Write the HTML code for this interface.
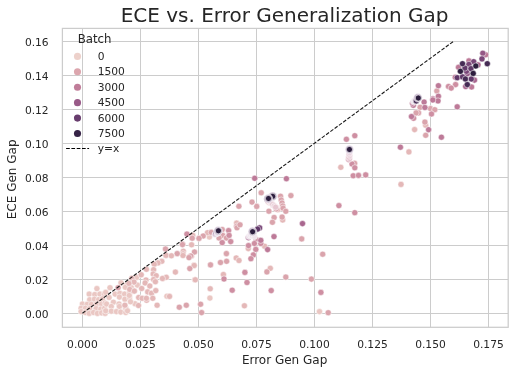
<!DOCTYPE html>
<html><head><meta charset="utf-8"><title>ECE vs. Error Generalization Gap</title>
<style>html,body{margin:0;padding:0;background:#fff;}svg{display:block;}</style></head>
<body>
<svg width="515" height="374" viewBox="0 0 515 374" font-family="'DejaVu Sans', 'Liberation Sans', sans-serif" fill="#262626">
<line x1="82.5" y1="28.4" x2="82.5" y2="327.3" stroke="#cccccc" stroke-width="1"/>
<line x1="140.5" y1="28.4" x2="140.5" y2="327.3" stroke="#cccccc" stroke-width="1"/>
<line x1="198.5" y1="28.4" x2="198.5" y2="327.3" stroke="#cccccc" stroke-width="1"/>
<line x1="256.5" y1="28.4" x2="256.5" y2="327.3" stroke="#cccccc" stroke-width="1"/>
<line x1="314.5" y1="28.4" x2="314.5" y2="327.3" stroke="#cccccc" stroke-width="1"/>
<line x1="372.5" y1="28.4" x2="372.5" y2="327.3" stroke="#cccccc" stroke-width="1"/>
<line x1="430.5" y1="28.4" x2="430.5" y2="327.3" stroke="#cccccc" stroke-width="1"/>
<line x1="488.5" y1="28.4" x2="488.5" y2="327.3" stroke="#cccccc" stroke-width="1"/>
<line x1="62.4" y1="313.5" x2="508.2" y2="313.5" stroke="#cccccc" stroke-width="1"/>
<line x1="62.4" y1="279.5" x2="508.2" y2="279.5" stroke="#cccccc" stroke-width="1"/>
<line x1="62.4" y1="245.5" x2="508.2" y2="245.5" stroke="#cccccc" stroke-width="1"/>
<line x1="62.4" y1="211.5" x2="508.2" y2="211.5" stroke="#cccccc" stroke-width="1"/>
<line x1="62.4" y1="177.5" x2="508.2" y2="177.5" stroke="#cccccc" stroke-width="1"/>
<line x1="62.4" y1="143.5" x2="508.2" y2="143.5" stroke="#cccccc" stroke-width="1"/>
<line x1="62.4" y1="109.5" x2="508.2" y2="109.5" stroke="#cccccc" stroke-width="1"/>
<line x1="62.4" y1="75.5" x2="508.2" y2="75.5" stroke="#cccccc" stroke-width="1"/>
<line x1="62.4" y1="41.5" x2="508.2" y2="41.5" stroke="#cccccc" stroke-width="1"/>
<circle cx="209.4" cy="237.0" r="3.05" fill="#eac7c3" stroke="#fff" stroke-width="0.5"/>
<circle cx="319.5" cy="311.6" r="3.05" fill="#eac7c3" stroke="#fff" stroke-width="0.5"/>
<circle cx="209.9" cy="298.1" r="3.05" fill="#eac7c3" stroke="#fff" stroke-width="0.5"/>
<circle cx="163.1" cy="278.6" r="3.05" fill="#eac7c3" stroke="#fff" stroke-width="0.5"/>
<circle cx="166.9" cy="296.2" r="3.05" fill="#eac7c3" stroke="#fff" stroke-width="0.5"/>
<circle cx="135.0" cy="303.7" r="3.05" fill="#eac7c3" stroke="#fff" stroke-width="0.5"/>
<circle cx="194.8" cy="279.8" r="3.05" fill="#eac7c3" stroke="#fff" stroke-width="0.5"/>
<circle cx="121.0" cy="282.8" r="3.05" fill="#eac7c3" stroke="#fff" stroke-width="0.5"/>
<circle cx="125.4" cy="285.5" r="3.05" fill="#eac7c3" stroke="#fff" stroke-width="0.5"/>
<circle cx="96.9" cy="288.6" r="3.05" fill="#eac7c3" stroke="#fff" stroke-width="0.5"/>
<circle cx="89.2" cy="294.1" r="3.05" fill="#eac7c3" stroke="#fff" stroke-width="0.5"/>
<circle cx="94.8" cy="294.5" r="3.05" fill="#eac7c3" stroke="#fff" stroke-width="0.5"/>
<circle cx="99.9" cy="294.1" r="3.05" fill="#eac7c3" stroke="#fff" stroke-width="0.5"/>
<circle cx="104.2" cy="294.1" r="3.05" fill="#eac7c3" stroke="#fff" stroke-width="0.5"/>
<circle cx="89.7" cy="299.7" r="3.05" fill="#eac7c3" stroke="#fff" stroke-width="0.5"/>
<circle cx="94.4" cy="299.2" r="3.05" fill="#eac7c3" stroke="#fff" stroke-width="0.5"/>
<circle cx="98.6" cy="299.7" r="3.05" fill="#eac7c3" stroke="#fff" stroke-width="0.5"/>
<circle cx="102.5" cy="298.8" r="3.05" fill="#eac7c3" stroke="#fff" stroke-width="0.5"/>
<circle cx="82.4" cy="304.0" r="3.05" fill="#eac7c3" stroke="#fff" stroke-width="0.5"/>
<circle cx="87.1" cy="304.4" r="3.05" fill="#eac7c3" stroke="#fff" stroke-width="0.5"/>
<circle cx="91.4" cy="304.4" r="3.05" fill="#eac7c3" stroke="#fff" stroke-width="0.5"/>
<circle cx="96.5" cy="304.0" r="3.05" fill="#eac7c3" stroke="#fff" stroke-width="0.5"/>
<circle cx="101.6" cy="304.0" r="3.05" fill="#eac7c3" stroke="#fff" stroke-width="0.5"/>
<circle cx="105.1" cy="303.1" r="3.05" fill="#eac7c3" stroke="#fff" stroke-width="0.5"/>
<circle cx="81.1" cy="308.2" r="3.05" fill="#eac7c3" stroke="#fff" stroke-width="0.5"/>
<circle cx="85.4" cy="308.2" r="3.05" fill="#eac7c3" stroke="#fff" stroke-width="0.5"/>
<circle cx="89.7" cy="308.6" r="3.05" fill="#eac7c3" stroke="#fff" stroke-width="0.5"/>
<circle cx="96.1" cy="308.6" r="3.05" fill="#eac7c3" stroke="#fff" stroke-width="0.5"/>
<circle cx="100.8" cy="309.1" r="3.05" fill="#eac7c3" stroke="#fff" stroke-width="0.5"/>
<circle cx="104.6" cy="308.2" r="3.05" fill="#eac7c3" stroke="#fff" stroke-width="0.5"/>
<circle cx="81.1" cy="311.6" r="3.05" fill="#eac7c3" stroke="#fff" stroke-width="0.5"/>
<circle cx="85.4" cy="312.5" r="3.05" fill="#eac7c3" stroke="#fff" stroke-width="0.5"/>
<circle cx="89.2" cy="313.4" r="3.05" fill="#eac7c3" stroke="#fff" stroke-width="0.5"/>
<circle cx="93.5" cy="312.5" r="3.05" fill="#eac7c3" stroke="#fff" stroke-width="0.5"/>
<circle cx="97.4" cy="313.4" r="3.05" fill="#eac7c3" stroke="#fff" stroke-width="0.5"/>
<circle cx="101.6" cy="312.9" r="3.05" fill="#eac7c3" stroke="#fff" stroke-width="0.5"/>
<circle cx="105.1" cy="313.4" r="3.05" fill="#eac7c3" stroke="#fff" stroke-width="0.5"/>
<circle cx="110.0" cy="287.7" r="3.05" fill="#eac7c3" stroke="#fff" stroke-width="0.5"/>
<circle cx="125.4" cy="287.3" r="3.05" fill="#eac7c3" stroke="#fff" stroke-width="0.5"/>
<circle cx="131.4" cy="287.7" r="3.05" fill="#eac7c3" stroke="#fff" stroke-width="0.5"/>
<circle cx="105.7" cy="292.4" r="3.05" fill="#eac7c3" stroke="#fff" stroke-width="0.5"/>
<circle cx="115.1" cy="294.1" r="3.05" fill="#eac7c3" stroke="#fff" stroke-width="0.5"/>
<circle cx="119.8" cy="293.3" r="3.05" fill="#eac7c3" stroke="#fff" stroke-width="0.5"/>
<circle cx="124.5" cy="294.1" r="3.05" fill="#eac7c3" stroke="#fff" stroke-width="0.5"/>
<circle cx="129.6" cy="292.8" r="3.05" fill="#eac7c3" stroke="#fff" stroke-width="0.5"/>
<circle cx="109.1" cy="297.5" r="3.05" fill="#eac7c3" stroke="#fff" stroke-width="0.5"/>
<circle cx="119.4" cy="297.1" r="3.05" fill="#eac7c3" stroke="#fff" stroke-width="0.5"/>
<circle cx="124.9" cy="299.2" r="3.05" fill="#eac7c3" stroke="#fff" stroke-width="0.5"/>
<circle cx="129.6" cy="298.0" r="3.05" fill="#eac7c3" stroke="#fff" stroke-width="0.5"/>
<circle cx="106.6" cy="304.0" r="3.05" fill="#eac7c3" stroke="#fff" stroke-width="0.5"/>
<circle cx="113.4" cy="302.2" r="3.05" fill="#eac7c3" stroke="#fff" stroke-width="0.5"/>
<circle cx="119.0" cy="304.0" r="3.05" fill="#eac7c3" stroke="#fff" stroke-width="0.5"/>
<circle cx="130.5" cy="301.8" r="3.05" fill="#eac7c3" stroke="#fff" stroke-width="0.5"/>
<circle cx="111.3" cy="306.5" r="3.05" fill="#eac7c3" stroke="#fff" stroke-width="0.5"/>
<circle cx="119.4" cy="306.5" r="3.05" fill="#eac7c3" stroke="#fff" stroke-width="0.5"/>
<circle cx="125.8" cy="308.2" r="3.05" fill="#eac7c3" stroke="#fff" stroke-width="0.5"/>
<circle cx="105.7" cy="310.8" r="3.05" fill="#eac7c3" stroke="#fff" stroke-width="0.5"/>
<circle cx="111.3" cy="311.2" r="3.05" fill="#eac7c3" stroke="#fff" stroke-width="0.5"/>
<circle cx="116.4" cy="311.6" r="3.05" fill="#eac7c3" stroke="#fff" stroke-width="0.5"/>
<circle cx="120.7" cy="312.1" r="3.05" fill="#eac7c3" stroke="#fff" stroke-width="0.5"/>
<circle cx="125.8" cy="312.5" r="3.05" fill="#eac7c3" stroke="#fff" stroke-width="0.5"/>
<circle cx="127.5" cy="310.8" r="3.05" fill="#eac7c3" stroke="#fff" stroke-width="0.5"/>
<circle cx="136.5" cy="277.4" r="3.05" fill="#eac7c3" stroke="#fff" stroke-width="0.5"/>
<circle cx="137.4" cy="285.1" r="3.05" fill="#eac7c3" stroke="#fff" stroke-width="0.5"/>
<circle cx="129.3" cy="295.4" r="3.05" fill="#eac7c3" stroke="#fff" stroke-width="0.5"/>
<circle cx="425.7" cy="125.2" r="3.05" fill="#e4b8b8" stroke="#fff" stroke-width="0.5"/>
<circle cx="414.6" cy="129.6" r="3.05" fill="#e4b8b8" stroke="#fff" stroke-width="0.5"/>
<circle cx="408.9" cy="151.9" r="3.05" fill="#e4b8b8" stroke="#fff" stroke-width="0.5"/>
<circle cx="401.0" cy="184.4" r="3.05" fill="#e4b8b8" stroke="#fff" stroke-width="0.5"/>
<circle cx="340.8" cy="167.3" r="3.05" fill="#e4b8b8" stroke="#fff" stroke-width="0.5"/>
<circle cx="277.8" cy="209.7" r="3.05" fill="#e4b8b8" stroke="#fff" stroke-width="0.5"/>
<circle cx="276.0" cy="207.5" r="3.05" fill="#e4b8b8" stroke="#fff" stroke-width="0.5"/>
<circle cx="273.0" cy="205.2" r="3.05" fill="#e4b8b8" stroke="#fff" stroke-width="0.5"/>
<circle cx="269.2" cy="202.5" r="3.05" fill="#e4b8b8" stroke="#fff" stroke-width="0.5"/>
<circle cx="282.7" cy="220.0" r="3.05" fill="#e4b8b8" stroke="#fff" stroke-width="0.5"/>
<circle cx="236.6" cy="223.1" r="3.05" fill="#e4b8b8" stroke="#fff" stroke-width="0.5"/>
<circle cx="207.5" cy="232.7" r="3.05" fill="#e4b8b8" stroke="#fff" stroke-width="0.5"/>
<circle cx="264.6" cy="246.2" r="3.05" fill="#e4b8b8" stroke="#fff" stroke-width="0.5"/>
<circle cx="248.3" cy="248.6" r="3.05" fill="#e4b8b8" stroke="#fff" stroke-width="0.5"/>
<circle cx="270.3" cy="268.3" r="3.05" fill="#e4b8b8" stroke="#fff" stroke-width="0.5"/>
<circle cx="191.6" cy="244.8" r="3.05" fill="#e4b8b8" stroke="#fff" stroke-width="0.5"/>
<circle cx="236.2" cy="258.0" r="3.05" fill="#e4b8b8" stroke="#fff" stroke-width="0.5"/>
<circle cx="239.0" cy="260.5" r="3.05" fill="#e4b8b8" stroke="#fff" stroke-width="0.5"/>
<circle cx="194.0" cy="265.4" r="3.05" fill="#e4b8b8" stroke="#fff" stroke-width="0.5"/>
<circle cx="223.4" cy="274.5" r="3.05" fill="#e4b8b8" stroke="#fff" stroke-width="0.5"/>
<circle cx="195.3" cy="279.8" r="3.05" fill="#e4b8b8" stroke="#fff" stroke-width="0.5"/>
<circle cx="210.2" cy="288.8" r="3.05" fill="#e4b8b8" stroke="#fff" stroke-width="0.5"/>
<circle cx="244.4" cy="305.8" r="3.05" fill="#e4b8b8" stroke="#fff" stroke-width="0.5"/>
<circle cx="192.7" cy="235.4" r="3.05" fill="#e4b8b8" stroke="#fff" stroke-width="0.5"/>
<circle cx="182.6" cy="244.0" r="3.05" fill="#e4b8b8" stroke="#fff" stroke-width="0.5"/>
<circle cx="166.0" cy="255.4" r="3.05" fill="#e4b8b8" stroke="#fff" stroke-width="0.5"/>
<circle cx="171.4" cy="255.8" r="3.05" fill="#e4b8b8" stroke="#fff" stroke-width="0.5"/>
<circle cx="183.3" cy="251.2" r="3.05" fill="#e4b8b8" stroke="#fff" stroke-width="0.5"/>
<circle cx="183.1" cy="253.8" r="3.05" fill="#e4b8b8" stroke="#fff" stroke-width="0.5"/>
<circle cx="183.0" cy="255.5" r="3.05" fill="#e4b8b8" stroke="#fff" stroke-width="0.5"/>
<circle cx="191.6" cy="256.1" r="3.05" fill="#e4b8b8" stroke="#fff" stroke-width="0.5"/>
<circle cx="161.8" cy="261.3" r="3.05" fill="#e4b8b8" stroke="#fff" stroke-width="0.5"/>
<circle cx="158.0" cy="262.9" r="3.05" fill="#e4b8b8" stroke="#fff" stroke-width="0.5"/>
<circle cx="154.3" cy="264.2" r="3.05" fill="#e4b8b8" stroke="#fff" stroke-width="0.5"/>
<circle cx="175.4" cy="272.1" r="3.05" fill="#e4b8b8" stroke="#fff" stroke-width="0.5"/>
<circle cx="166.3" cy="277.3" r="3.05" fill="#e4b8b8" stroke="#fff" stroke-width="0.5"/>
<circle cx="169.5" cy="296.4" r="3.05" fill="#e4b8b8" stroke="#fff" stroke-width="0.5"/>
<circle cx="146.6" cy="300.3" r="3.05" fill="#e4b8b8" stroke="#fff" stroke-width="0.5"/>
<circle cx="138.5" cy="305.5" r="3.05" fill="#e4b8b8" stroke="#fff" stroke-width="0.5"/>
<circle cx="157.1" cy="305.2" r="3.05" fill="#e4b8b8" stroke="#fff" stroke-width="0.5"/>
<circle cx="194.2" cy="265.5" r="3.05" fill="#e4b8b8" stroke="#fff" stroke-width="0.5"/>
<circle cx="162.4" cy="278.5" r="3.05" fill="#e4b8b8" stroke="#fff" stroke-width="0.5"/>
<circle cx="133.1" cy="291.1" r="3.05" fill="#e4b8b8" stroke="#fff" stroke-width="0.5"/>
<circle cx="124.9" cy="305.2" r="3.05" fill="#e4b8b8" stroke="#fff" stroke-width="0.5"/>
<circle cx="146.4" cy="269.3" r="3.05" fill="#e4b8b8" stroke="#fff" stroke-width="0.5"/>
<circle cx="153.6" cy="269.7" r="3.05" fill="#e4b8b8" stroke="#fff" stroke-width="0.5"/>
<circle cx="141.2" cy="274.8" r="3.05" fill="#e4b8b8" stroke="#fff" stroke-width="0.5"/>
<circle cx="153.2" cy="274.0" r="3.05" fill="#e4b8b8" stroke="#fff" stroke-width="0.5"/>
<circle cx="156.2" cy="275.7" r="3.05" fill="#e4b8b8" stroke="#fff" stroke-width="0.5"/>
<circle cx="131.8" cy="278.3" r="3.05" fill="#e4b8b8" stroke="#fff" stroke-width="0.5"/>
<circle cx="146.0" cy="280.0" r="3.05" fill="#e4b8b8" stroke="#fff" stroke-width="0.5"/>
<circle cx="153.6" cy="279.5" r="3.05" fill="#e4b8b8" stroke="#fff" stroke-width="0.5"/>
<circle cx="155.4" cy="281.7" r="3.05" fill="#e4b8b8" stroke="#fff" stroke-width="0.5"/>
<circle cx="134.0" cy="282.1" r="3.05" fill="#e4b8b8" stroke="#fff" stroke-width="0.5"/>
<circle cx="145.1" cy="283.0" r="3.05" fill="#e4b8b8" stroke="#fff" stroke-width="0.5"/>
<circle cx="149.8" cy="286.0" r="3.05" fill="#e4b8b8" stroke="#fff" stroke-width="0.5"/>
<circle cx="128.9" cy="283.4" r="3.05" fill="#e4b8b8" stroke="#fff" stroke-width="0.5"/>
<circle cx="141.7" cy="288.5" r="3.05" fill="#e4b8b8" stroke="#fff" stroke-width="0.5"/>
<circle cx="129.7" cy="289.4" r="3.05" fill="#e4b8b8" stroke="#fff" stroke-width="0.5"/>
<circle cx="134.4" cy="291.1" r="3.05" fill="#e4b8b8" stroke="#fff" stroke-width="0.5"/>
<circle cx="147.7" cy="291.9" r="3.05" fill="#e4b8b8" stroke="#fff" stroke-width="0.5"/>
<circle cx="151.5" cy="293.2" r="3.05" fill="#e4b8b8" stroke="#fff" stroke-width="0.5"/>
<circle cx="155.8" cy="290.6" r="3.05" fill="#e4b8b8" stroke="#fff" stroke-width="0.5"/>
<circle cx="138.7" cy="297.5" r="3.05" fill="#e4b8b8" stroke="#fff" stroke-width="0.5"/>
<circle cx="142.1" cy="298.3" r="3.05" fill="#e4b8b8" stroke="#fff" stroke-width="0.5"/>
<circle cx="146.4" cy="298.3" r="3.05" fill="#e4b8b8" stroke="#fff" stroke-width="0.5"/>
<circle cx="152.8" cy="298.3" r="3.05" fill="#e4b8b8" stroke="#fff" stroke-width="0.5"/>
<circle cx="436.8" cy="91.0" r="3.05" fill="#daa4ac" stroke="#fff" stroke-width="0.5"/>
<circle cx="420.1" cy="107.3" r="3.05" fill="#daa4ac" stroke="#fff" stroke-width="0.5"/>
<circle cx="430.5" cy="108.6" r="3.05" fill="#daa4ac" stroke="#fff" stroke-width="0.5"/>
<circle cx="434.8" cy="109.7" r="3.05" fill="#daa4ac" stroke="#fff" stroke-width="0.5"/>
<circle cx="418.5" cy="112.9" r="3.05" fill="#daa4ac" stroke="#fff" stroke-width="0.5"/>
<circle cx="416.1" cy="112.9" r="3.05" fill="#daa4ac" stroke="#fff" stroke-width="0.5"/>
<circle cx="424.9" cy="122.1" r="3.05" fill="#daa4ac" stroke="#fff" stroke-width="0.5"/>
<circle cx="425.7" cy="135.3" r="3.05" fill="#daa4ac" stroke="#fff" stroke-width="0.5"/>
<circle cx="354.6" cy="163.3" r="3.05" fill="#daa4ac" stroke="#fff" stroke-width="0.5"/>
<circle cx="261.2" cy="192.8" r="3.05" fill="#daa4ac" stroke="#fff" stroke-width="0.5"/>
<circle cx="252.0" cy="202.1" r="3.05" fill="#daa4ac" stroke="#fff" stroke-width="0.5"/>
<circle cx="256.7" cy="206.4" r="3.05" fill="#daa4ac" stroke="#fff" stroke-width="0.5"/>
<circle cx="290.9" cy="195.6" r="3.05" fill="#daa4ac" stroke="#fff" stroke-width="0.5"/>
<circle cx="238.9" cy="206.3" r="3.05" fill="#daa4ac" stroke="#fff" stroke-width="0.5"/>
<circle cx="280.5" cy="196.2" r="3.05" fill="#daa4ac" stroke="#fff" stroke-width="0.5"/>
<circle cx="281.2" cy="200.0" r="3.05" fill="#daa4ac" stroke="#fff" stroke-width="0.5"/>
<circle cx="282.0" cy="203.0" r="3.05" fill="#daa4ac" stroke="#fff" stroke-width="0.5"/>
<circle cx="282.7" cy="206.0" r="3.05" fill="#daa4ac" stroke="#fff" stroke-width="0.5"/>
<circle cx="283.1" cy="208.2" r="3.05" fill="#daa4ac" stroke="#fff" stroke-width="0.5"/>
<circle cx="285.8" cy="211.3" r="3.05" fill="#daa4ac" stroke="#fff" stroke-width="0.5"/>
<circle cx="276.2" cy="209.0" r="3.05" fill="#daa4ac" stroke="#fff" stroke-width="0.5"/>
<circle cx="271.5" cy="203.5" r="3.05" fill="#daa4ac" stroke="#fff" stroke-width="0.5"/>
<circle cx="268.9" cy="211.2" r="3.05" fill="#daa4ac" stroke="#fff" stroke-width="0.5"/>
<circle cx="274.1" cy="217.5" r="3.05" fill="#daa4ac" stroke="#fff" stroke-width="0.5"/>
<circle cx="282.1" cy="217.1" r="3.05" fill="#daa4ac" stroke="#fff" stroke-width="0.5"/>
<circle cx="272.4" cy="222.3" r="3.05" fill="#daa4ac" stroke="#fff" stroke-width="0.5"/>
<circle cx="236.6" cy="226.3" r="3.05" fill="#daa4ac" stroke="#fff" stroke-width="0.5"/>
<circle cx="237.0" cy="227.8" r="3.05" fill="#daa4ac" stroke="#fff" stroke-width="0.5"/>
<circle cx="211.3" cy="232.4" r="3.05" fill="#daa4ac" stroke="#fff" stroke-width="0.5"/>
<circle cx="203.2" cy="236.0" r="3.05" fill="#daa4ac" stroke="#fff" stroke-width="0.5"/>
<circle cx="199.0" cy="238.4" r="3.05" fill="#daa4ac" stroke="#fff" stroke-width="0.5"/>
<circle cx="222.2" cy="229.5" r="3.05" fill="#daa4ac" stroke="#fff" stroke-width="0.5"/>
<circle cx="222.7" cy="235.4" r="3.05" fill="#daa4ac" stroke="#fff" stroke-width="0.5"/>
<circle cx="226.4" cy="238.0" r="3.05" fill="#daa4ac" stroke="#fff" stroke-width="0.5"/>
<circle cx="219.0" cy="238.0" r="3.05" fill="#daa4ac" stroke="#fff" stroke-width="0.5"/>
<circle cx="226.4" cy="253.6" r="3.05" fill="#daa4ac" stroke="#fff" stroke-width="0.5"/>
<circle cx="240.0" cy="224.8" r="3.05" fill="#daa4ac" stroke="#fff" stroke-width="0.5"/>
<circle cx="301.7" cy="238.9" r="3.05" fill="#daa4ac" stroke="#fff" stroke-width="0.5"/>
<circle cx="322.7" cy="254.2" r="3.05" fill="#daa4ac" stroke="#fff" stroke-width="0.5"/>
<circle cx="266.9" cy="271.9" r="3.05" fill="#daa4ac" stroke="#fff" stroke-width="0.5"/>
<circle cx="285.8" cy="277.1" r="3.05" fill="#daa4ac" stroke="#fff" stroke-width="0.5"/>
<circle cx="311.4" cy="279.1" r="3.05" fill="#daa4ac" stroke="#fff" stroke-width="0.5"/>
<circle cx="328.2" cy="312.7" r="3.05" fill="#daa4ac" stroke="#fff" stroke-width="0.5"/>
<circle cx="194.5" cy="252.0" r="3.05" fill="#daa4ac" stroke="#fff" stroke-width="0.5"/>
<circle cx="190.8" cy="256.0" r="3.05" fill="#daa4ac" stroke="#fff" stroke-width="0.5"/>
<circle cx="220.5" cy="262.5" r="3.05" fill="#daa4ac" stroke="#fff" stroke-width="0.5"/>
<circle cx="226.6" cy="261.3" r="3.05" fill="#daa4ac" stroke="#fff" stroke-width="0.5"/>
<circle cx="210.5" cy="264.9" r="3.05" fill="#daa4ac" stroke="#fff" stroke-width="0.5"/>
<circle cx="189.8" cy="268.6" r="3.05" fill="#daa4ac" stroke="#fff" stroke-width="0.5"/>
<circle cx="200.6" cy="304.2" r="3.05" fill="#daa4ac" stroke="#fff" stroke-width="0.5"/>
<circle cx="201.6" cy="312.6" r="3.05" fill="#daa4ac" stroke="#fff" stroke-width="0.5"/>
<circle cx="179.3" cy="307.2" r="3.05" fill="#daa4ac" stroke="#fff" stroke-width="0.5"/>
<circle cx="186.3" cy="305.2" r="3.05" fill="#daa4ac" stroke="#fff" stroke-width="0.5"/>
<circle cx="192.2" cy="238.2" r="3.05" fill="#daa4ac" stroke="#fff" stroke-width="0.5"/>
<circle cx="182.5" cy="244.6" r="3.05" fill="#daa4ac" stroke="#fff" stroke-width="0.5"/>
<circle cx="165.5" cy="249.0" r="3.05" fill="#daa4ac" stroke="#fff" stroke-width="0.5"/>
<circle cx="177.2" cy="253.6" r="3.05" fill="#daa4ac" stroke="#fff" stroke-width="0.5"/>
<circle cx="189.0" cy="257.6" r="3.05" fill="#daa4ac" stroke="#fff" stroke-width="0.5"/>
<circle cx="118.1" cy="287.7" r="3.05" fill="#daa4ac" stroke="#fff" stroke-width="0.5"/>
<circle cx="455.6" cy="84.6" r="3.05" fill="#ce8fa2" stroke="#fff" stroke-width="0.5"/>
<circle cx="448.5" cy="86.5" r="3.05" fill="#ce8fa2" stroke="#fff" stroke-width="0.5"/>
<circle cx="451.2" cy="88.1" r="3.05" fill="#ce8fa2" stroke="#fff" stroke-width="0.5"/>
<circle cx="431.5" cy="114.0" r="3.05" fill="#ce8fa2" stroke="#fff" stroke-width="0.5"/>
<circle cx="413.6" cy="118.3" r="3.05" fill="#ce8fa2" stroke="#fff" stroke-width="0.5"/>
<circle cx="354.8" cy="135.7" r="3.05" fill="#ce8fa2" stroke="#fff" stroke-width="0.5"/>
<circle cx="346.4" cy="139.3" r="3.05" fill="#ce8fa2" stroke="#fff" stroke-width="0.5"/>
<circle cx="352.0" cy="164.0" r="3.05" fill="#ce8fa2" stroke="#fff" stroke-width="0.5"/>
<circle cx="354.8" cy="167.8" r="3.05" fill="#ce8fa2" stroke="#fff" stroke-width="0.5"/>
<circle cx="353.2" cy="175.8" r="3.05" fill="#ce8fa2" stroke="#fff" stroke-width="0.5"/>
<circle cx="358.5" cy="175.4" r="3.05" fill="#ce8fa2" stroke="#fff" stroke-width="0.5"/>
<circle cx="365.7" cy="174.9" r="3.05" fill="#ce8fa2" stroke="#fff" stroke-width="0.5"/>
<circle cx="354.8" cy="212.7" r="3.05" fill="#ce8fa2" stroke="#fff" stroke-width="0.5"/>
<circle cx="338.9" cy="205.6" r="3.05" fill="#ce8fa2" stroke="#fff" stroke-width="0.5"/>
<circle cx="268.0" cy="201.0" r="3.05" fill="#ce8fa2" stroke="#fff" stroke-width="0.5"/>
<circle cx="228.6" cy="230.6" r="3.05" fill="#ce8fa2" stroke="#fff" stroke-width="0.5"/>
<circle cx="229.1" cy="235.4" r="3.05" fill="#ce8fa2" stroke="#fff" stroke-width="0.5"/>
<circle cx="222.2" cy="242.6" r="3.05" fill="#ce8fa2" stroke="#fff" stroke-width="0.5"/>
<circle cx="230.7" cy="241.6" r="3.05" fill="#ce8fa2" stroke="#fff" stroke-width="0.5"/>
<circle cx="250.7" cy="235.0" r="3.05" fill="#ce8fa2" stroke="#fff" stroke-width="0.5"/>
<circle cx="256.0" cy="239.2" r="3.05" fill="#ce8fa2" stroke="#fff" stroke-width="0.5"/>
<circle cx="254.4" cy="243.5" r="3.05" fill="#ce8fa2" stroke="#fff" stroke-width="0.5"/>
<circle cx="260.8" cy="243.5" r="3.05" fill="#ce8fa2" stroke="#fff" stroke-width="0.5"/>
<circle cx="248.5" cy="245.6" r="3.05" fill="#ce8fa2" stroke="#fff" stroke-width="0.5"/>
<circle cx="255.8" cy="249.4" r="3.05" fill="#ce8fa2" stroke="#fff" stroke-width="0.5"/>
<circle cx="253.4" cy="254.9" r="3.05" fill="#ce8fa2" stroke="#fff" stroke-width="0.5"/>
<circle cx="250.9" cy="258.7" r="3.05" fill="#ce8fa2" stroke="#fff" stroke-width="0.5"/>
<circle cx="271.2" cy="290.6" r="3.05" fill="#ce8fa2" stroke="#fff" stroke-width="0.5"/>
<circle cx="320.9" cy="292.4" r="3.05" fill="#ce8fa2" stroke="#fff" stroke-width="0.5"/>
<circle cx="224.0" cy="279.0" r="3.05" fill="#ce8fa2" stroke="#fff" stroke-width="0.5"/>
<circle cx="244.9" cy="272.4" r="3.05" fill="#ce8fa2" stroke="#fff" stroke-width="0.5"/>
<circle cx="247.0" cy="282.5" r="3.05" fill="#ce8fa2" stroke="#fff" stroke-width="0.5"/>
<circle cx="232.2" cy="290.2" r="3.05" fill="#ce8fa2" stroke="#fff" stroke-width="0.5"/>
<circle cx="186.9" cy="234.1" r="3.05" fill="#ce8fa2" stroke="#fff" stroke-width="0.5"/>
<circle cx="485.7" cy="54.8" r="3.05" fill="#bd7a98" stroke="#fff" stroke-width="0.5"/>
<circle cx="468.9" cy="60.9" r="3.05" fill="#bd7a98" stroke="#fff" stroke-width="0.5"/>
<circle cx="458.5" cy="67.3" r="3.05" fill="#bd7a98" stroke="#fff" stroke-width="0.5"/>
<circle cx="455.3" cy="77.2" r="3.05" fill="#bd7a98" stroke="#fff" stroke-width="0.5"/>
<circle cx="471.6" cy="87.0" r="3.05" fill="#bd7a98" stroke="#fff" stroke-width="0.5"/>
<circle cx="438.4" cy="85.7" r="3.05" fill="#bd7a98" stroke="#fff" stroke-width="0.5"/>
<circle cx="438.4" cy="96.2" r="3.05" fill="#bd7a98" stroke="#fff" stroke-width="0.5"/>
<circle cx="432.9" cy="98.9" r="3.05" fill="#bd7a98" stroke="#fff" stroke-width="0.5"/>
<circle cx="438.0" cy="100.9" r="3.05" fill="#bd7a98" stroke="#fff" stroke-width="0.5"/>
<circle cx="432.8" cy="100.0" r="3.05" fill="#bd7a98" stroke="#fff" stroke-width="0.5"/>
<circle cx="424.1" cy="102.1" r="3.05" fill="#bd7a98" stroke="#fff" stroke-width="0.5"/>
<circle cx="413.3" cy="105.3" r="3.05" fill="#bd7a98" stroke="#fff" stroke-width="0.5"/>
<circle cx="424.9" cy="107.5" r="3.05" fill="#bd7a98" stroke="#fff" stroke-width="0.5"/>
<circle cx="411.5" cy="116.6" r="3.05" fill="#bd7a98" stroke="#fff" stroke-width="0.5"/>
<circle cx="428.6" cy="129.7" r="3.05" fill="#bd7a98" stroke="#fff" stroke-width="0.5"/>
<circle cx="441.4" cy="137.2" r="3.05" fill="#bd7a98" stroke="#fff" stroke-width="0.5"/>
<circle cx="457.2" cy="106.8" r="3.05" fill="#bd7a98" stroke="#fff" stroke-width="0.5"/>
<circle cx="400.4" cy="147.2" r="3.05" fill="#bd7a98" stroke="#fff" stroke-width="0.5"/>
<circle cx="254.7" cy="178.3" r="3.05" fill="#bd7a98" stroke="#fff" stroke-width="0.5"/>
<circle cx="286.4" cy="178.7" r="3.05" fill="#bd7a98" stroke="#fff" stroke-width="0.5"/>
<circle cx="260.8" cy="240.3" r="3.05" fill="#bd7a98" stroke="#fff" stroke-width="0.5"/>
<circle cx="267.6" cy="249.6" r="3.05" fill="#bd7a98" stroke="#fff" stroke-width="0.5"/>
<circle cx="274.0" cy="236.6" r="3.05" fill="#bd7a98" stroke="#fff" stroke-width="0.5"/>
<circle cx="478.0" cy="64.9" r="3.05" fill="#a9678f" stroke="#fff" stroke-width="0.5"/>
<circle cx="474.5" cy="80.1" r="3.05" fill="#a9678f" stroke="#fff" stroke-width="0.5"/>
<circle cx="465.7" cy="86.5" r="3.05" fill="#a9678f" stroke="#fff" stroke-width="0.5"/>
<circle cx="248.5" cy="237.6" r="3.05" fill="#a9678f" stroke="#fff" stroke-width="0.5"/>
<circle cx="302.5" cy="223.6" r="3.05" fill="#a9678f" stroke="#fff" stroke-width="0.5"/>
<circle cx="482.8" cy="53.2" r="3.05" fill="#945785" stroke="#fff" stroke-width="0.5"/>
<circle cx="467.3" cy="73.7" r="3.05" fill="#945785" stroke="#fff" stroke-width="0.5"/>
<circle cx="482.0" cy="58.9" r="3.05" fill="#794678" stroke="#fff" stroke-width="0.5"/>
<circle cx="473.7" cy="61.7" r="3.05" fill="#794678" stroke="#fff" stroke-width="0.5"/>
<circle cx="468.9" cy="64.4" r="3.05" fill="#794678" stroke="#fff" stroke-width="0.5"/>
<circle cx="466.5" cy="71.3" r="3.05" fill="#794678" stroke="#fff" stroke-width="0.5"/>
<circle cx="464.9" cy="68.1" r="3.05" fill="#613969" stroke="#fff" stroke-width="0.5"/>
<circle cx="471.0" cy="68.6" r="3.05" fill="#613969" stroke="#fff" stroke-width="0.5"/>
<circle cx="457.2" cy="77.7" r="3.05" fill="#613969" stroke="#fff" stroke-width="0.5"/>
<circle cx="462.5" cy="76.9" r="3.05" fill="#613969" stroke="#fff" stroke-width="0.5"/>
<circle cx="471.3" cy="79.0" r="3.05" fill="#613969" stroke="#fff" stroke-width="0.5"/>
<circle cx="487.3" cy="63.7" r="3.05" fill="#452b54" stroke="#fff" stroke-width="0.5"/>
<circle cx="462.5" cy="63.7" r="3.05" fill="#452b54" stroke="#fff" stroke-width="0.5"/>
<circle cx="465.4" cy="79.0" r="3.05" fill="#452b54" stroke="#fff" stroke-width="0.5"/>
<circle cx="467.3" cy="84.6" r="3.05" fill="#452b54" stroke="#fff" stroke-width="0.5"/>
<circle cx="475.8" cy="66.0" r="3.05" fill="#2d1e3e" stroke="#fff" stroke-width="0.5"/>
<circle cx="460.4" cy="71.3" r="3.05" fill="#2d1e3e" stroke="#fff" stroke-width="0.5"/>
<circle cx="473.2" cy="73.4" r="3.05" fill="#2d1e3e" stroke="#fff" stroke-width="0.5"/>
<circle cx="412.6" cy="103.2" r="3.05" fill="#bd7a98" stroke="#fff" stroke-width="0.5"/>
<circle cx="413.4" cy="101.8" r="3.05" fill="#e4d6e4" stroke="#fff" stroke-width="0.5"/>
<circle cx="414.3" cy="100.9" r="3.05" fill="#ebe0ea" stroke="#fff" stroke-width="0.5"/>
<circle cx="415.2" cy="100.3" r="3.05" fill="#e2d2e2" stroke="#fff" stroke-width="0.5"/>
<circle cx="416.3" cy="100.9" r="3.05" fill="#452b54" stroke="#fff" stroke-width="0.5"/>
<circle cx="417.9" cy="97.8" r="4.3" fill="#cbbad0" stroke="#fff" stroke-width="0.5"/>
<circle cx="418.3" cy="98.0" r="3.05" fill="#2d1e3e" stroke="#fff" stroke-width="0.6"/>
<circle cx="348.6" cy="159.6" r="3.05" fill="#d9a9b8" stroke="#fff" stroke-width="0.5"/>
<circle cx="349.4" cy="158.4" r="3.05" fill="#e0b8c6" stroke="#fff" stroke-width="0.5"/>
<circle cx="348.8" cy="157.0" r="3.05" fill="#e4c0cc" stroke="#fff" stroke-width="0.5"/>
<circle cx="349.6" cy="155.6" r="3.05" fill="#e6c8d4" stroke="#fff" stroke-width="0.5"/>
<circle cx="349.0" cy="154.2" r="3.05" fill="#e9cfda" stroke="#fff" stroke-width="0.5"/>
<circle cx="349.5" cy="152.6" r="3.05" fill="#e6cedb" stroke="#fff" stroke-width="0.5"/>
<circle cx="349.45" cy="149.5" r="4.2" fill="#d0c0d6" stroke="#fff" stroke-width="0.5"/>
<circle cx="349.45" cy="149.5" r="3.05" fill="#2d1e3e" stroke="#fff" stroke-width="0.6"/>
<circle cx="215.0" cy="234.5" r="3.05" fill="#e4d2e2" stroke="#fff" stroke-width="0.5"/>
<circle cx="216.2" cy="233.4" r="3.05" fill="#794678" stroke="#fff" stroke-width="0.5"/>
<circle cx="217.0" cy="233.6" r="3.05" fill="#ece0ea" stroke="#fff" stroke-width="0.5"/>
<circle cx="218.2" cy="230.9" r="4.3" fill="#cbbad0" stroke="#fff" stroke-width="0.5"/>
<circle cx="218.4" cy="230.8" r="3.05" fill="#2d1e3e" stroke="#fff" stroke-width="0.6"/>
<circle cx="249.0" cy="236.5" r="3.05" fill="#eadde8" stroke="#fff" stroke-width="0.5"/>
<circle cx="250.5" cy="235.4" r="3.05" fill="#f0e6ee" stroke="#fff" stroke-width="0.5"/>
<circle cx="252.6" cy="236.0" r="3.05" fill="#ece0ea" stroke="#fff" stroke-width="0.5"/>
<circle cx="254.5" cy="236.6" r="3.05" fill="#efe4ec" stroke="#fff" stroke-width="0.5"/>
<circle cx="259.6" cy="227.9" r="3.05" fill="#794678" stroke="#fff" stroke-width="0.5"/>
<circle cx="257.6" cy="229.1" r="3.05" fill="#613969" stroke="#fff" stroke-width="0.5"/>
<circle cx="252.5" cy="231.6" r="4.3" fill="#cbbad0" stroke="#fff" stroke-width="0.5"/>
<circle cx="252.6" cy="231.7" r="3.05" fill="#2d1e3e" stroke="#fff" stroke-width="0.6"/>
<circle cx="269.5" cy="201.5" r="3.05" fill="#ecd3dc" stroke="#fff" stroke-width="0.5"/>
<circle cx="271.0" cy="203.0" r="3.05" fill="#eed8e0" stroke="#fff" stroke-width="0.5"/>
<circle cx="272.6" cy="204.3" r="3.05" fill="#e8ccd6" stroke="#fff" stroke-width="0.5"/>
<circle cx="274.2" cy="205.8" r="3.05" fill="#ecd4dc" stroke="#fff" stroke-width="0.5"/>
<circle cx="275.6" cy="207.2" r="3.05" fill="#e6c6d0" stroke="#fff" stroke-width="0.5"/>
<circle cx="266.9" cy="198.9" r="3.05" fill="#452b54" stroke="#fff" stroke-width="0.5"/>
<circle cx="272.7" cy="196.4" r="4.3" fill="#cbbad0" stroke="#fff" stroke-width="0.5"/>
<circle cx="272.7" cy="196.4" r="3.05" fill="#2d1e3e" stroke="#fff" stroke-width="0.6"/>
<circle cx="268.4" cy="198.6" r="4.3" fill="#cbbad0" stroke="#fff" stroke-width="0.5"/>
<circle cx="268.5" cy="198.5" r="3.05" fill="#2d1e3e" stroke="#fff" stroke-width="0.6"/>
<line x1="82.4" y1="313.3" x2="453.664" y2="41.22000000000003" stroke="#1a1a1a" stroke-width="1.1" stroke-dasharray="3.7 1.6"/>
<rect x="62.4" y="28.4" width="445.8" height="298.90000000000003" fill="none" stroke="#cccccc" stroke-width="1.25"/>
<text x="48.3" y="318.05" text-anchor="end" font-size="10.7" letter-spacing="-0.15">0.00</text>
<text x="48.3" y="284.04" text-anchor="end" font-size="10.7" letter-spacing="-0.15">0.02</text>
<text x="48.3" y="250.03000000000003" text-anchor="end" font-size="10.7" letter-spacing="-0.15">0.04</text>
<text x="48.3" y="216.02" text-anchor="end" font-size="10.7" letter-spacing="-0.15">0.06</text>
<text x="48.3" y="182.01000000000002" text-anchor="end" font-size="10.7" letter-spacing="-0.15">0.08</text>
<text x="48.3" y="148.00000000000003" text-anchor="end" font-size="10.7" letter-spacing="-0.15">0.10</text>
<text x="48.3" y="113.99000000000001" text-anchor="end" font-size="10.7" letter-spacing="-0.15">0.12</text>
<text x="48.3" y="79.97999999999999" text-anchor="end" font-size="10.7" letter-spacing="-0.15">0.14</text>
<text x="48.3" y="45.97000000000003" text-anchor="end" font-size="10.7" letter-spacing="-0.15">0.16</text>
<text x="82.4" y="348.0" text-anchor="middle" font-size="10.7">0.000</text>
<text x="140.41" y="348.0" text-anchor="middle" font-size="10.7">0.025</text>
<text x="198.42000000000002" y="348.0" text-anchor="middle" font-size="10.7">0.050</text>
<text x="256.43000000000006" y="348.0" text-anchor="middle" font-size="10.7">0.075</text>
<text x="314.44" y="348.0" text-anchor="middle" font-size="10.7">0.100</text>
<text x="372.45000000000005" y="348.0" text-anchor="middle" font-size="10.7">0.125</text>
<text x="430.46000000000004" y="348.0" text-anchor="middle" font-size="10.7">0.150</text>
<text x="488.47" y="348.0" text-anchor="middle" font-size="10.7">0.175</text>
<text x="284.6" y="363.8" text-anchor="middle" font-size="12">Error Gen Gap</text>
<text transform="translate(16.0,179.35) rotate(-90)" text-anchor="middle" font-size="12">ECE Gen Gap</text>
<text x="284.6" y="21.9" text-anchor="middle" font-size="20">ECE vs. Error Generalization Gap</text>
<text x="77.7" y="42.5" font-size="11.75">Batch</text>
<circle cx="77.5" cy="56.4" r="3.55" fill="#edd1cb"/>
<text x="97.7" y="59.9" font-size="10.7">0</text>
<circle cx="77.5" cy="71.82" r="3.55" fill="#dca6ae"/>
<text x="97.7" y="75.32" font-size="10.7">1500</text>
<circle cx="77.5" cy="87.24" r="3.55" fill="#c07d99"/>
<text x="97.7" y="90.74" font-size="10.7">3000</text>
<circle cx="77.5" cy="102.66" r="3.55" fill="#995a88"/>
<text x="97.7" y="106.16" font-size="10.7">4500</text>
<circle cx="77.5" cy="118.08" r="3.55" fill="#683d6e"/>
<text x="97.7" y="121.58" font-size="10.7">6000</text>
<circle cx="77.5" cy="133.5" r="3.55" fill="#352346"/>
<text x="97.7" y="137.0" font-size="10.7">7500</text>
<line x1="66.1" y1="148.5" x2="89.1" y2="148.5" stroke="#000" stroke-width="1" stroke-dasharray="3.7 1.6"/>
<text x="97.7" y="151.9" font-size="10.7">y=x</text>
</svg>
</body></html>
